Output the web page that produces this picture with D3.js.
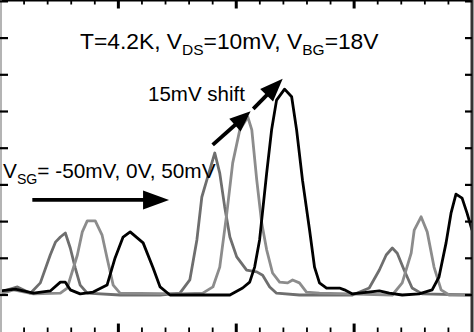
<!DOCTYPE html>
<html><head><meta charset="utf-8">
<script src="https://cdn.jsdelivr.net/npm/d3@7"></script>
<style>html,body{margin:0;padding:0;background:#fff;}svg{display:block;}</style>
</head><body>
<script>
// gate voltage axis (arbitrary units) and conductance (arbitrary units)
const xTicksMajor = [0, 5, 10, 15, 20];
const xTicksMinor = d3.range(0, 21, 1);
const yTicks = [0, 1, 2, 3, 4, 5, 6, 7, 8];
const seriesNames = ["-50mV", "0V", "50mV"];
const seriesColors = ["#6e6e6e", "#8c8c8c", "#000000"];

const curveA = [[0,0.08],[0.72,0.22],[1.27,0.05],[1.69,0.33],[2.11,1.09],[2.33,1.44],[2.54,1.58],[2.75,1.69],[2.96,1.28],[3.17,0.74],[3.38,0.27],[3.68,0.05],[5.07,0],[6.77,0],[7.61,0.05],[8.03,0.41],[8.33,1.5],[8.54,2.67],[8.75,3.13],[9.09,3.87],[9.3,3.32],[9.51,2.4],[9.73,1.58],[10.02,1.04],[10.44,0.68],[10.87,0.63],[11.12,0.54],[11.42,0.22],[11.71,0.05],[12.68,0],[14.93,0],[15.64,0.19],[16.07,0.68],[16.36,1.09],[16.62,1.28],[16.83,1.14],[17.12,0.68],[17.46,0.19],[17.89,0.03],[20,0]];
const curveB = [[0,0.03],[0.55,0.14],[1.4,0.03],[2.54,0.05],[2.83,0.19],[3.26,1.09],[3.47,1.72],[3.68,2.02],[4.02,2.02],[4.31,1.63],[4.52,1.01],[4.78,0.27],[5.07,0.05],[7.61,0.03],[8.58,0.05],[9.01,0.22],[9.3,0.76],[9.6,2.23],[9.85,3.6],[10.15,4.5],[10.49,4.85],[10.66,4.5],[10.87,3.13],[11.08,1.96],[11.29,1.23],[11.54,0.6],[11.84,0.35],[12.18,0.33],[12.39,0.41],[12.68,0.33],[12.98,0.08],[13.53,0.05],[16.62,0],[17.04,0.33],[17.42,1.14],[17.55,1.77],[17.84,2.13],[18.1,1.72],[18.39,0.76],[18.69,0.14],[19.03,0],[20,0]];
const curveC = [[0,0.11],[0.63,0.16],[1.4,0.05],[2.11,0.11],[2.54,0.35],[2.75,0.35],[2.96,0.14],[3.38,0.03],[3.93,0.08],[4.52,0.27],[4.86,1.01],[5.2,1.58],[5.5,1.72],[6.05,1.42],[6.47,0.74],[6.77,0.22],[7.19,0],[9.73,0],[10.27,0.19],[10.57,0.35],[10.78,0.76],[10.99,1.5],[11.29,3.32],[11.5,4.5],[11.71,5.31],[12.05,5.61],[12.35,5.4],[12.56,4.5],[12.81,3.13],[13.11,1.77],[13.32,0.76],[13.53,0.33],[13.83,0.19],[14.38,0.19],[14.59,0.14],[14.93,0.03],[16.07,0.11],[16.49,0.05],[17.04,0],[17.76,0.03],[18.31,0.14],[18.6,0.49],[18.9,1.42],[19.11,2.23],[19.32,2.75],[19.58,2.64],[19.79,2.23],[20,1.77]];
const allCurves = [curveA, curveB, curveC];

const W = 474, H = 332;
const svg = d3.select("body").append("svg").attr("width", W).attr("height", H);

const x = d3.scaleLinear().domain([0, 20]).range([0.5, 472]);
const y = d3.scaleLinear().domain([0, 8]).range([295, 1.4]);
const yBottom = y(-1.05), yTop = 0.5;
const xl = x(0), xr = x(20);

svg.append("defs").append("clipPath").attr("id", "clip")
  .append("rect").attr("x", xl).attr("y", yTop).attr("width", xr - xl).attr("height", yBottom - yTop);

// curves
const line = d3.line().x(d => x(d[0])).y(d => y(d[1]));
const g = svg.append("g").attr("clip-path", "url(#clip)");
allCurves.forEach((c, i) => {
  g.append("path").datum(c).attr("d", line)
    .attr("fill", "none").attr("stroke", seriesColors[i])
    .attr("stroke-width", 2.8).attr("stroke-linejoin", "round");
});

// frame
svg.append("line").attr("x1", xl).attr("x2", xr).attr("y1", 0.7).attr("y2", 0.7).attr("stroke", "#000").attr("stroke-width", 1.6);
svg.append("line").attr("x1", 0.8).attr("x2", 0.8).attr("y1", 0).attr("y2", H).attr("stroke", "#b4b4b4").attr("stroke-width", 2.4);
svg.append("line").attr("x1", xr).attr("x2", xr).attr("y1", 0).attr("y2", H).attr("stroke", "#333").attr("stroke-width", 3);
svg.append("line").attr("x1", xl).attr("x2", xr).attr("y1", yBottom).attr("y2", yBottom).attr("stroke", "#000").attr("stroke-width", 1.6);

// top & bottom ticks (inward)
xTicksMinor.forEach(t => {
  const major = xTicksMajor.includes(t);
  if (t === 0 || t === 20) return;
  svg.append("line").attr("x1", x(t)).attr("x2", x(t)).attr("y1", 0).attr("y2", major ? 8.5 : 4.5)
    .attr("stroke", "#000").attr("stroke-width", major ? 3 : 1.8);
  svg.append("line").attr("x1", x(t)).attr("x2", x(t)).attr("y1", yBottom).attr("y2", yBottom - (major ? 10 : 6))
    .attr("stroke", "#000").attr("stroke-width", major ? 3 : 1.8);
});
// left & right ticks
yTicks.forEach(t => {
  svg.append("line").attr("x1", 0).attr("x2", 8).attr("y1", y(t)).attr("y2", y(t)).attr("stroke", "#000").attr("stroke-width", 2.2);
  svg.append("line").attr("x1", xr).attr("x2", xr - 7).attr("y1", y(t)).attr("y2", y(t)).attr("stroke", "#000").attr("stroke-width", 2.2);
});

// text
const font = "'Liberation Sans', Arial, Helvetica, sans-serif";
function richText(px, py, size, parts) {
  const t = svg.append("text").attr("x", px).attr("y", py).attr("font-family", font).attr("font-size", size).attr("fill", "#000");
  parts.forEach(p => {
    const s = t.append("tspan").text(p[0]);
    if (p[1]) s.attr("font-size", size * 0.68).attr("dy", size * 0.27);
    else if (p[2]) s.attr("dy", -size * 0.27);
  });
  return t;
}
richText(80, 48.5, 22.8, [["T=4.2K, V"], ["DS", true], ["=10mV, V", false, true], ["BG", true], ["=18V", false, true]]);
svg.append("text").attr("x", 148).attr("y", 100.5).attr("font-family", font).attr("font-size", 20.5).text("15mV shift");
richText(3, 178, 20.8, [["V"], ["SG", true], ["= -50mV, 0V, 50mV", false, true]]);

// arrows (positions in data units)
function arrow(x1, y1, x2, y2, hl, hw, sw) {
  const X1 = x(x1), Y1 = y(y1), X2 = x(x2), Y2 = y(y2);
  const dx = X2 - X1, dy = Y2 - Y1, L = Math.hypot(dx, dy);
  const ux = dx / L, uy = dy / L;
  const bx = X2 - ux * hl, by = Y2 - uy * hl;
  svg.append("line").attr("x1", X1).attr("y1", Y1).attr("x2", bx + ux * 2).attr("y2", by + uy * 2)
    .attr("stroke", "#000").attr("stroke-width", sw);
  svg.append("path").attr("d", `M${X2},${Y2}L${bx - uy * hw / 2},${by + ux * hw / 2}L${bx + uy * hw / 2},${by - ux * hw / 2}Z`)
    .attr("fill", "#000");
}
arrow(1.35, 2.59, 7.15, 2.59, 26, 19, 3.8);
arrow(9.0, 4.09, 10.61, 5.01, 21, 17, 3.8);
arrow(10.72, 5.07, 11.97, 5.89, 23, 18, 3.8);
</script>
</body></html>
